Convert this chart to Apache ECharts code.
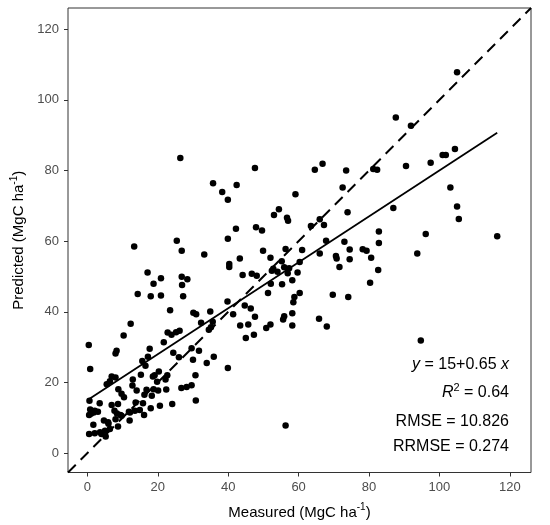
<!DOCTYPE html>
<html>
<head>
<meta charset="utf-8">
<script src="https://cdn.jsdelivr.net/npm/echarts@6/dist/echarts.min.js"></script>
<style>
html, body { margin: 0; padding: 0; background: #fff; }
#chart { width: 550px; height: 525px; }
</style>
</head>
<body>
<div id="chart"></div>
<script>
// measured vs predicted carbon stock (MgC ha-1)
var measured = [
  26.4, 35.7, 38.3, 39.9, 42.4, 47.6, 13.3, 25.4, 26.8, 33.2, 39.9, 42.2, 47.9, 49.6, 53, 49.9, 52, 43.3, 40.3, 40.3,
  17.1, 20.9, 18.8, 26.8, 28.4, 26.9, 14.3, 18, 20.9, 27.2,
  23.5, 30.1, 30.9, 34.9, 32.3, 35.6, 35.1, 34.5, 0.4, 0.8, 10.3, 12.3, 8.3, 8, 17.7, 17.2, 15.6, 16.5, 21.7, 22.8,
  23.9, 25.2, 26.2, 24.4, 26, 29.6, 31.7, 30, 30.7, 33.9, 35.9, 39.9, 30.8, 24.1, 29.6, 28.2, 26.7, 22.4, 22.2, 20.3,
  18.6, 18.8, 18.3, 20.6, 18, 16.2, 15.8, 16.1, 14, 13.7, 12.9, 12.8, 11.8, 12, 10.4, 8.8, 8, 6.9, 5.5, 8.7,
  6.9, 7.7, 8.4, 9.4, 3.5, 0.6, 0.8, 0.5, 1.8, 3, 1.7, 0.5, 2.1, 4, 5, 5.2, 6, 4.7, 8.7, 6.4, 8,
  15.2, 19.1, 19.8, 20.1, 9.7, 6.4, 13.5, 14.9, 12.1, 9.7, 5.9, 3.6, 2.1, 1, 22.7, 16.8,
  39.8, 41.4, 44.7, 46.4, 47.6, 43.4, 45.7, 45, 47.3, 50.8, 52, 55.6, 55.9, 58.2, 58.2, 58.5, 65.8, 68, 56.3, 52.4,
  44.1, 46.7, 48.1, 51.3,
  64.6, 66.8, 73.5, 59.1, 72.5, 73.9, 81.2, 82.3, 54.4, 56.7, 57, 63.5, 66, 67.2, 82.8, 82.8, 67.8, 73, 56.3, 61,
  66, 74.5, 78.2, 79.3, 80.6, 82.6, 80.3, 70.6, 70.8, 71.6, 74.5, 55.2, 52.8, 54, 55.9, 57.3, 56.9, 59.7, 60.3, 52.1,
  55.3, 58.2, 58.8, 60.3, 69.7, 74.1,
  105, 87.6, 91.9, 90.5, 97.5, 100.9, 101.8, 104.4, 86.9, 103.1, 105, 105.5, 116.4, 96.1, 93.7, 94.7
];
var predicted = [
  83.5, 76.4, 73.9, 71.7, 75.9, 80.7, 58.5, 60.1, 57.3, 56.2, 60.7, 63.5, 63.9, 63, 67.4, 57.3, 55.3, 55.1, 53.5, 52.7,
  51.1, 49.5, 47.9, 49.9, 49.2, 47.6, 45, 44.4, 44.6, 44.4,
  40.4, 39.7, 39.3, 40.1, 36.9, 37.2, 35.6, 34.9, 30.6, 23.8, 33.3, 36.6, 29, 28.2, 29.5, 27.3, 26.1, 24.7, 31.4, 34.1,
  33.5, 34.2, 34.6, 28.4, 27.1, 29.7, 29, 26.4, 22, 25.5, 27.3, 24.1, 14.9, 13.9, 19.2, 18.7, 18.4, 18, 20.8, 23.1,
  21.7, 18.1, 16.2, 13.4, 12.7, 16.5, 14.1, 10.8, 17.7, 14.3, 20.8, 19.1, 11.7, 9.2, 15.8, 18.1, 21.4, 21.7, 19.5, 13.9,
  13.6, 12, 11.2, 10.8, 14.1, 14.8, 12.3, 10.8, 11.5, 11.7, 8, 5.4, 5.6, 5.4, 6.3, 4.7, 8.3, 9.2, 7.5, 6.8, 9.6,
  22.2, 22, 20.2, 17.7, 16.8, 20.3, 12, 12.2, 11.5, 10.6, 8.7, 5.9, 12, 11.1, 22, 17.9,
  42.9, 39.3, 41.8, 40.9, 38.6, 36.1, 36.4, 32.6, 33.5, 35.4, 36.4, 37.8, 38.7, 39.6, 36.1, 42.7, 38, 35.8, 7.8, 51.6,
  50.4, 50.8, 50.2, 45.3,
  80.2, 81.9, 80, 73.3, 75.2, 68.2, 80.4, 80.2, 69, 66.6, 65.8, 64.3, 66.2, 64.6, 62.7, 59.5, 60.1, 59.8, 57.8, 57.5,
  56.5, 57.6, 57.7, 57.3, 55.3, 51.8, 48.2, 55.8, 55.1, 52.7, 54.9, 54.3, 52.2, 51.3, 52.6, 52.3, 50.9, 51.1, 54.1, 47.9,
  47.8, 48.9, 44.2, 45.3, 44.8, 44.2,
  107.8, 95, 92.7, 81.3, 82.2, 84.4, 84.4, 86.1, 69.4, 75.2, 69.8, 66.3, 61.4, 62, 56.5, 31.9
];
var ticks = [0, 20, 40, 60, 80, 100, 120];
var intercept = 15;
var slope = 0.65;
var statLines = [
  '{i|y}{n| = 15+0.65 }{i|x}',
  '{i|R}{s|2}{n| = 0.64}',
  '{n|RMSE = 10.826}',
  '{n|RRMSE = 0.274}'
];

var axMin = -5.5, axMax = 126;
var points = measured.map(function (m, i) { return [m, predicted[i]]; });
var xLo = Math.min.apply(null, measured);
var xHi = Math.max.apply(null, measured);
var fitLine = [[xLo, intercept + slope * xLo], [xHi, intercept + slope * xHi]];
var oneToOne = [[axMin, axMin], [axMax, axMax]];

var font = 'Liberation Sans, Arial, sans-serif';
var titleRich = {
  n: { fontSize: 15, fontFamily: font, color: '#000', lineHeight: 20 },
  s: { fontSize: 10, fontFamily: font, color: '#000', lineHeight: 12, verticalAlign: 'top' }
};
var statRich = {
  n: { fontSize: 16, fontFamily: font, color: '#000', lineHeight: 22 },
  i: { fontSize: 16, fontFamily: font, color: '#000', fontStyle: 'italic', lineHeight: 22 },
  s: { fontSize: 11, fontFamily: font, color: '#000', lineHeight: 12, verticalAlign: 'top' }
};

function axis(name, gap, labelMargin) {
  return {
    type: 'value',
    min: axMin,
    max: axMax,
    name: name,
    nameLocation: 'middle',
    nameGap: gap,
    nameTextStyle: { rich: titleRich },
    axisLine: { show: false, onZero: false },
    splitLine: { show: false },
    axisTick: { show: true, length: 4, lineStyle: { color: '#333', width: 1 }, customValues: ticks },
    axisLabel: { fontSize: 13, fontFamily: font, color: '#4D4D4D', margin: labelMargin, customValues: ticks }
  };
}

var yTops = [365, 393, 422, 447];

var myChart = echarts.init(document.getElementById('chart'));
myChart.setOption({
  animation: false,
  backgroundColor: '#fff',
  grid: { left: 68, right: 19, top: 8, bottom: 52, show: true, borderColor: '#333', borderWidth: 1 },
  xAxis: axis('{n|Measured (MgC ha}{s|-1}{n|)}', 30, 8),
  yAxis: axis('{n|Predicted (MgC ha}{s|-1}{n|)}', 38, 9),
  series: [
    {
      type: 'line',
      data: oneToOne,
      symbol: 'none',
      clip: true,
      lineStyle: { color: '#000', width: 2, type: [11, 7] },
      z: 1
    },
    {
      type: 'scatter',
      data: points,
      symbolSize: 6.5,
      itemStyle: { color: '#000', opacity: 1 },
      z: 2
    },
    {
      type: 'line',
      data: fitLine,
      symbol: 'none',
      lineStyle: { color: '#000', width: 1.8 },
      z: 3
    }
  ],
  graphic: statLines.map(function (t, i) {
    return {
      type: 'text',
      style: {
        text: t,
        x: 509,
        y: yTops[i],
        align: 'right',
        verticalAlign: 'middle',
        rich: statRich
      }
    };
  })
});
</script>
</body>
</html>
